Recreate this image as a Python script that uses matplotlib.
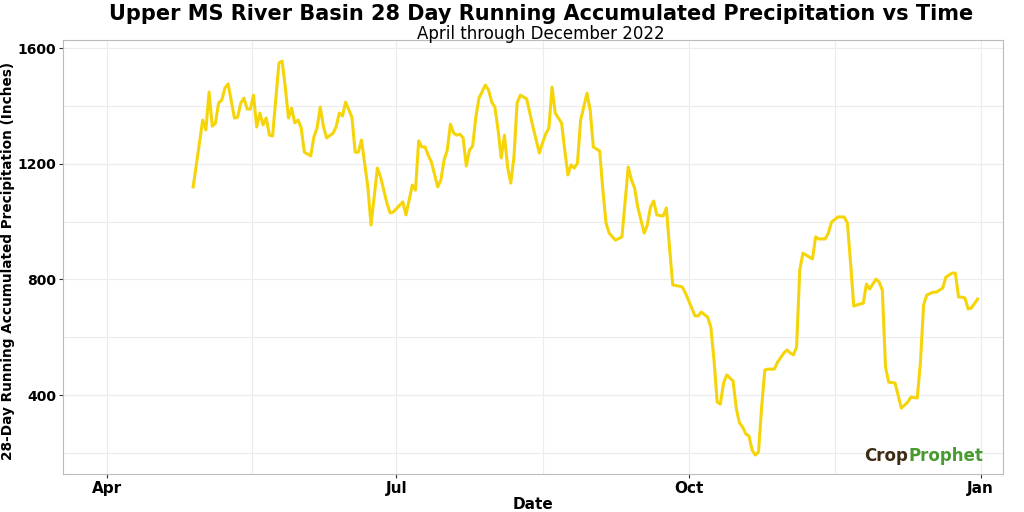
import numpy as np
import pandas as pd
import matplotlib
matplotlib.use("Agg")
import matplotlib.pyplot as plt
import matplotlib.dates as mdates

# days after 2022-04-01 and 28-day running precipitation
day_offset = [27, 30, 31, 32, 33, 34, 35, 36, 37, 38, 40, 41, 42, 43, 44, 45, 46, 47, 48, 49,
              50, 51, 52, 54, 55, 56, 57, 58, 59, 60, 61, 62, 64, 65, 66, 67, 68, 69, 71, 72,
              73, 74, 75, 77, 78, 79, 80, 82, 83, 85, 86, 88, 89, 90, 93, 94, 95, 96, 97, 98,
              99, 100, 101, 102, 104, 105, 106, 107, 108, 109, 110, 111, 112, 113, 114, 115, 116, 117, 119, 120,
              121, 122, 123, 124, 125, 126, 127, 128, 129, 130, 131, 132, 133, 134, 136, 137, 138, 139, 140, 141,
              143, 144, 145, 146, 147, 148, 149, 151, 152, 153, 154, 155, 156, 157, 158, 159, 160, 162, 164, 165,
              166, 167, 169, 170, 171, 172, 173, 175, 176, 177, 178, 180, 181, 182, 184, 185, 186, 187, 189, 190,
              191, 192, 193, 194, 195, 196, 197, 198, 199, 200, 201, 202, 203, 204, 205, 206, 207, 208, 210, 211,
              213, 214, 215, 216, 217, 218, 219, 220, 222, 223, 224, 226, 227, 228, 230, 232, 233, 234, 235, 236,
              238, 239, 240, 242, 243, 244, 245, 246, 248, 250, 252, 253, 255, 256, 257, 258, 260, 261, 263, 264,
              266, 267, 268, 269, 270, 271, 272, 274]
precip = [1120, 1351, 1317, 1448, 1330, 1340, 1410, 1420, 1462, 1476, 1358, 1361, 1410, 1427, 1389, 1389, 1437, 1327, 1375, 1334,
          1358, 1299, 1296, 1548, 1555, 1465, 1358, 1392, 1341, 1351, 1325, 1240, 1227, 1292, 1323, 1396, 1330, 1289, 1305, 1327,
          1375, 1365, 1413, 1360, 1240, 1240, 1282, 1119, 988, 1185, 1154, 1064, 1030, 1033, 1068, 1023, 1075, 1126, 1109, 1279,
          1258, 1258, 1230, 1206, 1120, 1144, 1213, 1247, 1337, 1306, 1299, 1302, 1289, 1192, 1247, 1261, 1361, 1427, 1472, 1455,
          1413, 1396, 1317, 1220, 1299, 1189, 1133, 1223, 1410, 1437, 1431, 1424, 1375, 1327, 1237, 1272, 1303, 1323, 1465, 1375,
          1341, 1247, 1161, 1196, 1185, 1202, 1351, 1444, 1386, 1258, 1251, 1244, 1109, 995, 960, 947, 936, 947, 1189, 1144,
          1116, 1050, 960, 988, 1050, 1071, 1023, 1019, 1047, 909, 781, 777, 774, 753, 701, 674, 674, 687, 670, 635,
          521, 376, 369, 442, 470, 459, 449, 355, 304, 290, 266, 259, 210, 193, 203, 359, 487, 490, 490, 514,
          546, 556, 546, 539, 566, 833, 891, 884, 871, 947, 940, 940, 960, 998, 1016, 1016, 995, 857, 708, 712,
          718, 784, 767, 801, 791, 763, 497, 445, 442, 355, 376, 393, 390, 514, 712, 746, 756, 756, 770, 808,
          822, 822, 739, 739, 736, 698, 701, 732]

tick_dates = ["2022-04-01", "2022-07-01", "2022-10-01", "2023-01-01"]
tick_labels = ["Apr", "Jul", "Oct", "Jan"]
y_ticks = [400, 800, 1200, 1600]

dates = pd.Timestamp("2022-04-01") + pd.to_timedelta(day_offset, unit="D")

fig = plt.figure(figsize=(10.24, 5.12), dpi=100)
ax = fig.add_axes([0.0615, 0.074, 0.918, 0.848])

ax.plot(dates, precip, color="#F5D50A", linewidth=2.2)

ax.set_xlim(pd.Timestamp("2022-03-18"), pd.Timestamp("2023-01-08"))
ax.set_ylim(127, 1628)

tk = pd.to_datetime(tick_dates)
ax.set_xticks(tk)
ax.set_xticklabels(tick_labels, fontsize=11, fontweight="bold")
mids = [tk[i] + (tk[i + 1] - tk[i]) / 2 for i in range(len(tk) - 1)]
ax.set_xticks(mids, minor=True)
ax.set_yticks(y_ticks)
ax.set_yticklabels([str(v) for v in y_ticks], fontsize=10, fontweight="bold")
ax.set_yticks([200, 600, 1000, 1400], minor=True)

ax.grid(True, which="both", color="#ececec", linewidth=0.8)
ax.set_axisbelow(True)
ax.tick_params(axis="both", which="major", length=3, color="#333333", pad=2)
ax.tick_params(axis="both", which="minor", length=0)
for s in ax.spines.values():
    s.set_color("#bbbbbb")
    s.set_linewidth(0.8)

ax.set_xlabel("Date", fontsize=11, fontweight="bold", labelpad=1)
ax.set_ylabel("28-Day Running Accumulated Precipitation (Inches)", fontsize=9.8, fontweight="bold")
ax.yaxis.set_label_coords(-0.051, 0.49)

fig.text(0.528, 0.973, "Upper MS River Basin 28 Day Running Accumulated Precipitation vs Time",
         ha="center", va="center", fontsize=15, fontweight="bold")
fig.text(0.528, 0.934, "April through December 2022", ha="center", va="center", fontsize=12)

ax.text(0.899, 0.022, "Crop", transform=ax.transAxes, ha="right", va="bottom",
        fontsize=12, fontweight="bold", color="#3d2a12")
ax.text(0.899, 0.022, "Prophet", transform=ax.transAxes, ha="left", va="bottom",
        fontsize=12, fontweight="bold", color="#4a9a32")

fig.savefig("out.png", dpi=100)
